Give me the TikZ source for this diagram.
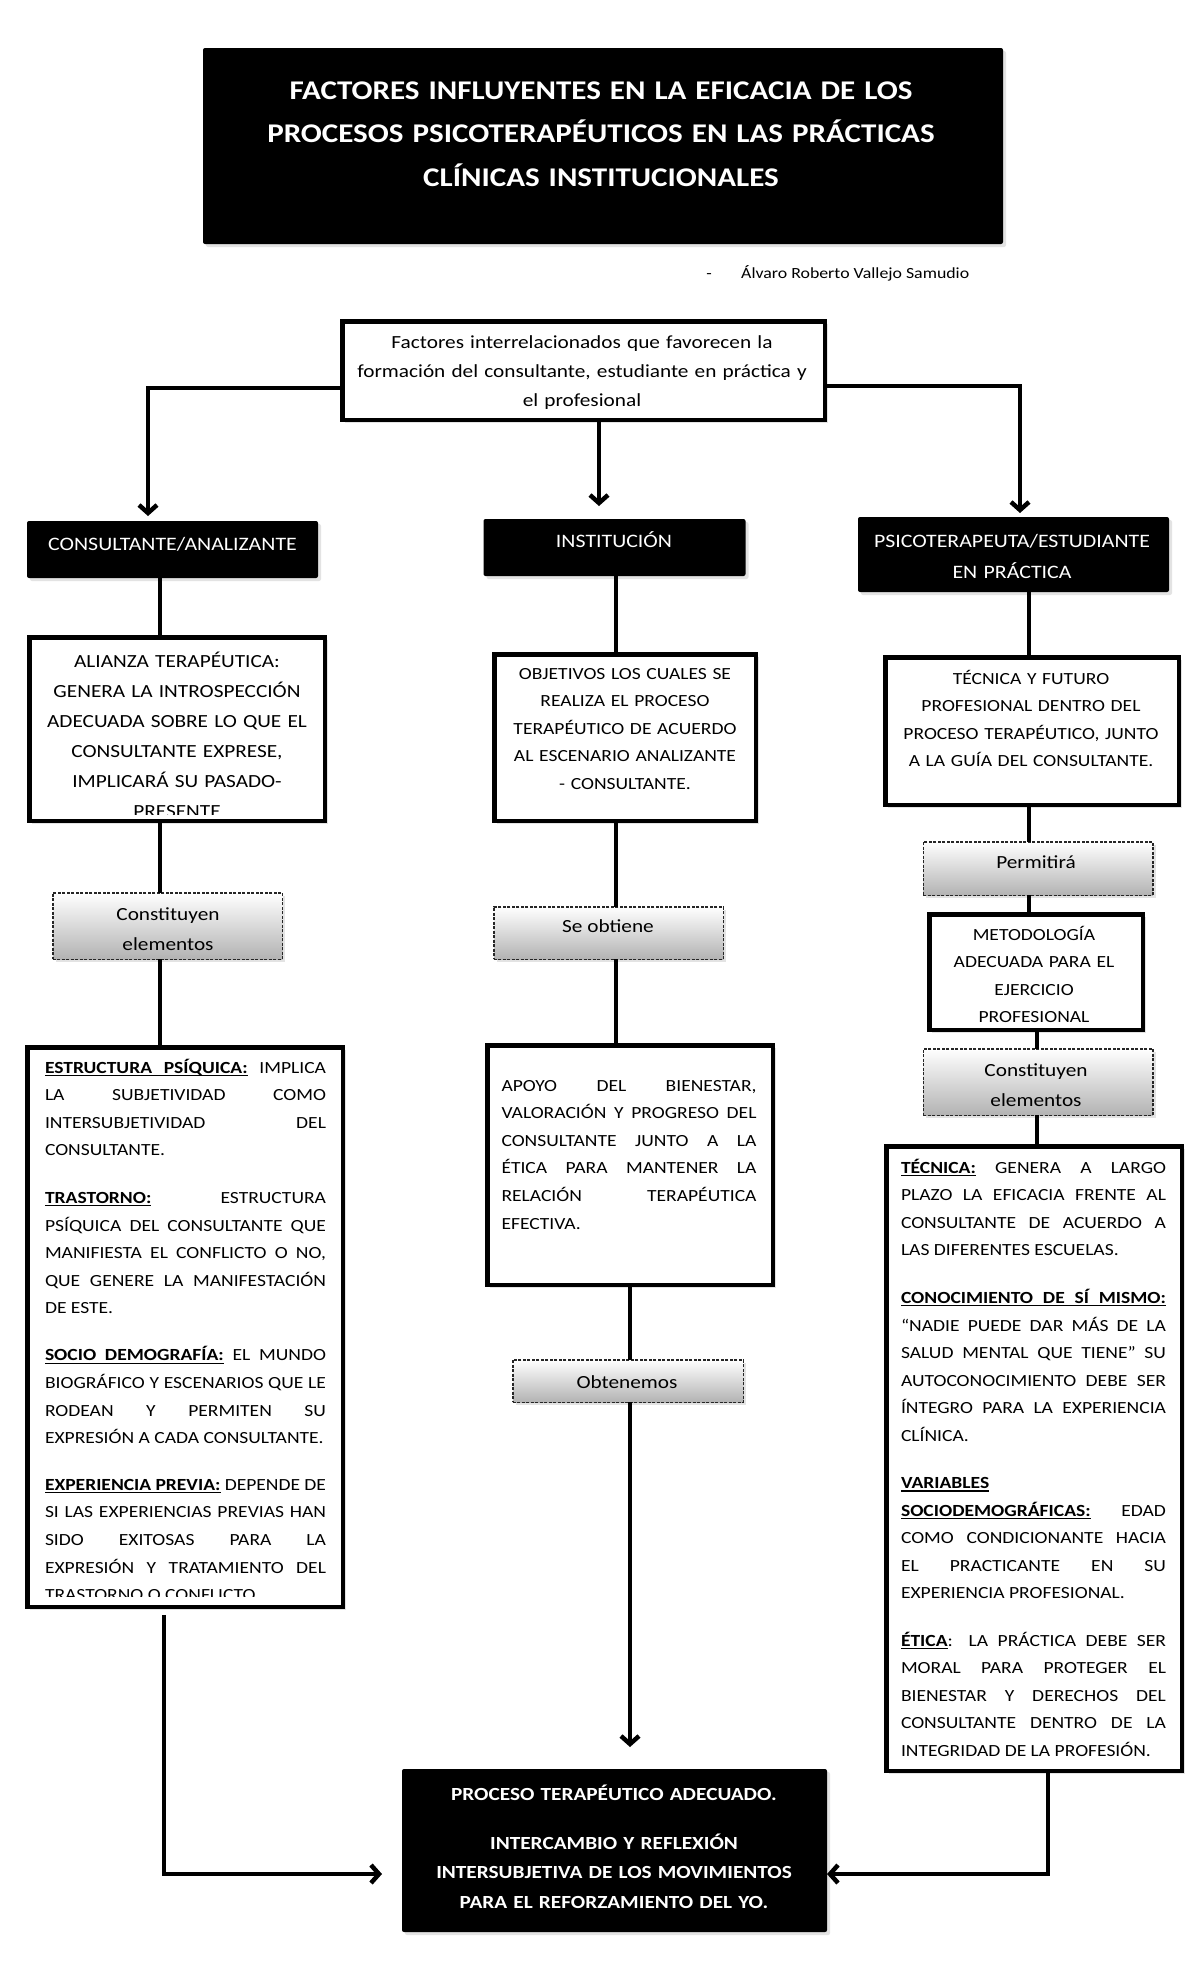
\documentclass[tikz,border=0pt]{standalone}
\usepackage{fontspec}
\setmainfont{Carlito}[FakeStretch=1.15]
\newcommand\ulw[1]{\setbox0=\hbox{#1}\rlap{\rule[-3pt]{\wd0}{1.4pt}}\box0}
\newcommand\uls{\leaders\hrule height -1.6pt depth 3pt\hskip\fontdimen2\font plus\fontdimen3\font minus\fontdimen4\font\relax}
\usetikzlibrary{arrows.meta,shadows,calc}
\begin{document}
\begin{tikzpicture}[x=1pt,y=-1pt,
  shad/.style={drop shadow={opacity=0.22, shadow xshift=3pt, shadow yshift=-3pt}},
  wbox/.style={draw=black, line width=4.5pt, fill=white, inner sep=0pt, outer sep=0pt, anchor=north west, shad},
  bbox/.style={fill=black, rounded corners=2pt, inner sep=0pt, outer sep=0pt, anchor=north west, shad},
  dbox/.style={draw=black!85, dash pattern=on 3pt off 1.5pt, line width=1.5pt, top color=white, bottom color=black!30, inner sep=0pt, outer sep=0pt, anchor=north west, shad},
  conn/.style={line width=4.5pt},
  arr/.style={line width=4.5pt, -{Straight Barb[length=8pt,width=18pt]}},
  txt/.style={inner sep=0pt, outer sep=0pt, anchor=base, align=center},
  body/.style={font=\fontsize{17}{27.6}\selectfont},
  jtxt/.style={inner sep=0pt, outer sep=0pt, anchor=base west, align=justify, body},
]
\useasboundingbox[fill=white] (0,0) rectangle (1200,1976);

% ---------- boxes ----------
\node[bbox, minimum width=800pt, minimum height=196pt] (title) at (203,48) {};
\node[wbox, minimum width=482.5pt, minimum height=98.5pt] (top) at (342.25,321.25) {};
\node[bbox, minimum width=291pt, minimum height=57pt] (cons) at (27,521) {};
\node[bbox, minimum width=262pt, minimum height=57pt] (inst) at (483.5,519) {};
\node[bbox, minimum width=311pt, minimum height=75pt] (psico) at (858,517) {};
\node[wbox, minimum width=295.5pt, minimum height=183.5pt] (ali) at (29.25,637.25) {};
\node[wbox, minimum width=261.5pt, minimum height=166.5pt] (obj) at (494.25,654.25) {};
\node[wbox, minimum width=293.5pt, minimum height=147.5pt] (tf) at (885.25,657.25) {};
\node[dbox, minimum width=229.5pt, minimum height=66.5pt] (c1) at (52.75,892.75) {};
\node[dbox, minimum width=229.5pt, minimum height=52.5pt] (se) at (493.75,906.75) {};
\node[dbox, minimum width=229.5pt, minimum height=53.5pt] (perm) at (923.25,841.75) {};
\node[wbox, minimum width=213.5pt, minimum height=115.5pt] (met) at (929.25,914.25) {};
\node[dbox, minimum width=229.5pt, minimum height=66.5pt] (c2) at (923.25,1048.75) {};
\node[wbox, minimum width=315.5pt, minimum height=559.5pt] (est) at (27.25,1047.25) {};
\node[wbox, minimum width=285.5pt, minimum height=239.5pt] (apoyo) at (487.25,1045.25) {};
\node[wbox, minimum width=295.5pt, minimum height=624.5pt] (tec) at (886.25,1146.25) {};
\node[dbox, minimum width=230.5pt, minimum height=42.5pt] (obt) at (512.75,1359.75) {};
\node[bbox, minimum width=425pt, minimum height=163pt] (final) at (402,1769) {};

% ---------- connector x positions ----------
\coordinate (xl) at (160,0);
\coordinate (xl2) at (164,0);
\coordinate (xm1) at (616,0);
\coordinate (xm2) at (630,0);
\coordinate (xr1) at (1029,0);
\coordinate (xr2) at (1037,0);
\coordinate (xr3) at (1048,0);

% ---------- connectors ----------
\draw[arr, shorten >=5pt] ([yshift=-17.5pt]top.west) -| ([xshift=-24.5pt]cons.north);
\draw[arr, shorten >=4pt] ([yshift=-15.5pt]top.east) -| ([xshift=6.5pt]psico.north);
\draw[arr, shorten >=13pt] ([xshift=15.5pt]top.south) -- ([xshift=15.5pt]top.south |- inst.north);

\draw[conn] (cons.south -| xl) -- (ali.north -| xl);
\draw[conn] (ali.south -| xl) -- (c1.north -| xl);
\draw[conn] (c1.south -| xl) -- (est.north -| xl);
\draw[arr, shorten >=20pt] ([yshift=-8pt]est.south -| xl2) |- ([yshift=-23.5pt]final.west);

\draw[conn] (inst.south -| xm1) -- (obj.north -| xm1);
\draw[conn] (obj.south -| xm1) -- (se.north -| xm1);
\draw[conn] (se.south -| xm1) -- (apoyo.north -| xm1);
\draw[conn] (apoyo.south -| xm2) -- (obt.north -| xm2);
\draw[arr, shorten >=22pt] (obt.south -| xm2) -- (final.north -| xm2);

\draw[conn] (psico.south -| xr1) -- (tf.north -| xr1);
\draw[conn] (tf.south -| xr1) -- (perm.north -| xr1);
\draw[conn] (perm.south -| xr1) -- (met.north -| xr1);
\draw[conn] (met.south -| xr2) -- (c2.north -| xr2);
\draw[conn] (c2.south -| xr2) -- (tec.north -| xr2);
\draw[arr] (tec.south -| xr3) |- ([yshift=-23.5pt]final.east);

% ---------- texts ----------
\node[txt, text width=790pt, text=white, font=\bfseries\fontsize{27}{43.5}\selectfont] (ttitle) at (601,99)
  {FACTORES INFLUYENTES EN LA EFICACIA DE LOS\\PROCESOS PSICOTERAPÉUTICOS EN LAS PRÁCTICAS\\CLÍNICAS INSTITUCIONALES};
\node[inner sep=0pt, anchor=base, font=\fontsize{15.5}{18}\selectfont] (tdash) at (709,278) {-};
\node[inner sep=0pt, anchor=base west, font=\fontsize{15.5}{18}\selectfont] (tauth) at (741,278) {Álvaro Roberto Vallejo Samudio};

\node[txt, text width=480pt, font=\fontsize{18.5}{29}\selectfont] (ttop) at (582,348)
  {Factores interrelacionados que favorecen la\\formación del consultante, estudiante en práctica y\\el profesional};

\node[txt, text=white, font=\fontsize{19}{31}\selectfont] (tcons) at (172.5,550) {CONSULTANTE/ANALIZANTE};
\node[txt, text=white, font=\fontsize{19}{31}\selectfont] (tinst) at (614,547) {INSTITUCIÓN};
\node[txt, text width=305pt, text=white, font=\fontsize{19}{31}\selectfont] (tpsico) at (1012,547) {PSICOTERAPEUTA/ESTUDIANTE\\EN PRÁCTICA};

\begin{scope}
\clip (31.5,639.5) rectangle (322.5,814.5);
\node[txt, text width=295pt, font=\fontsize{18.5}{30}\selectfont] (tali) at (177,667)
  {ALIANZA TERAPÉUTICA:\\GENERA LA INTROSPECCIÓN\\ADECUADA SOBRE LO QUE EL\\CONSULTANTE EXPRESE,\\IMPLICARÁ SU PASADO-\\PRESENTE};
\end{scope}

\node[txt, text width=260pt, body] (tobj) at (625,679)
  {OBJETIVOS LOS CUALES SE\\REALIZA EL PROCESO\\TERAPÉUTICO DE ACUERDO\\AL ESCENARIO ANALIZANTE\\- CONSULTANTE.};
\node[txt, text width=292pt, body] (ttf) at (1031,684)
  {TÉCNICA Y FUTURO\\PROFESIONAL DENTRO DEL\\PROCESO TERAPÉUTICO, JUNTO\\A LA GUÍA DEL CONSULTANTE.};

\node[txt, text width=225pt, font=\fontsize{18.5}{30}\selectfont] (tc1) at (168,920) {Constituyen\\elementos};
\node[txt, font=\fontsize{18.5}{30}\selectfont] (tse) at (608,932) {Se obtiene};
\node[txt, font=\fontsize{18.5}{30}\selectfont] (tperm) at (1036,868) {Permitirá};
\node[txt, text width=212pt, body] (tmet) at (1034,940) {METODOLOGÍA\\ADECUADA PARA EL\\EJERCICIO\\PROFESIONAL};
\node[txt, text width=225pt, font=\fontsize{18.5}{30}\selectfont] (tc2) at (1036,1076) {Constituyen\\elementos};
\node[txt, font=\fontsize{18.5}{30}\selectfont] (tobt) at (627,1388) {Obtenemos};

\begin{scope}
\clip (31.5,1049.5) rectangle (338.5,1596);
\node[jtxt, text width=281pt] (test) at (45,1073)
  {\textbf{\ulw{ESTRUCTURA}\uls\ulw{PSÍQUICA:}\uls}IMPLICA\linebreak LA SUBJETIVIDAD COMO\linebreak INTERSUBJETIVIDAD DEL\linebreak CONSULTANTE.\par\vspace{20pt}
   \textbf{\ulw{TRASTORNO:}} ESTRUCTURA\linebreak PSÍQUICA DEL CONSULTANTE QUE\linebreak MANIFIESTA EL CONFLICTO O NO,\linebreak QUE GENERE LA MANIFESTACIÓN\linebreak DE ESTE.\par\vspace{19.5pt}
   \textbf{\ulw{SOCIO}\uls\ulw{DEMOGRAFÍA:}\uls}EL MUNDO\linebreak BIOGRÁFICO Y ESCENARIOS QUE LE\linebreak RODEAN Y PERMITEN SU\linebreak EXPRESIÓN A CADA CONSULTANTE.\par\vspace{19pt}
   \textbf{\ulw{EXPERIENCIA}\uls\ulw{PREVIA:}} DEPENDE DE\linebreak SI LAS EXPERIENCIAS PREVIAS HAN\linebreak SIDO EXITOSAS PARA LA\linebreak EXPRESIÓN Y TRATAMIENTO DEL\linebreak TRASTORNO O CONFLICTO.};
\end{scope}

\node[jtxt, text width=255pt] (tapoyo) at (501.5,1091)
  {APOYO DEL BIENESTAR,\linebreak VALORACIÓN Y PROGRESO DEL\linebreak CONSULTANTE JUNTO A LA\linebreak ÉTICA PARA MANTENER LA\linebreak RELACIÓN TERAPÉUTICA\linebreak EFECTIVA.};

\node[jtxt, text width=265pt] (ttec) at (901,1173)
  {\textbf{\ulw{TÉCNICA:}} GENERA A LARGO\linebreak PLAZO LA EFICACIA FRENTE AL\linebreak CONSULTANTE DE ACUERDO A\linebreak LAS DIFERENTES ESCUELAS.\par\vspace{20pt}
   \textbf{\ulw{CONOCIMIENTO}\uls\ulw{DE}\uls\ulw{SÍ}\uls\ulw{MISMO:}}\linebreak “NADIE PUEDE DAR MÁS DE LA\linebreak SALUD MENTAL QUE TIENE” SU\linebreak AUTOCONOCIMIENTO DEBE SER\linebreak ÍNTEGRO PARA LA EXPERIENCIA\linebreak CLÍNICA.\par\vspace{19.5pt}
   \textbf{\ulw{VARIABLES}}\newline \textbf{\ulw{SOCIODEMOGRÁFICAS:}} EDAD\linebreak COMO CONDICIONANTE HACIA\linebreak EL PRACTICANTE EN SU\linebreak EXPERIENCIA PROFESIONAL.\par\vspace{19.5pt}
   \textbf{\ulw{ÉTICA}}: LA PRÁCTICA DEBE SER\linebreak MORAL PARA PROTEGER EL\linebreak BIENESTAR Y DERECHOS DEL\linebreak CONSULTANTE DENTRO DE LA\linebreak INTEGRIDAD DE LA PROFESIÓN.};

\node[txt, text width=420pt, text=white, font=\bfseries\fontsize{18.5}{29.5}\selectfont] (tfinal) at (614,1800)
  {PROCESO TERAPÉUTICO ADECUADO.\\[19.5pt]INTERCAMBIO Y REFLEXIÓN\\INTERSUBJETIVA DE LOS MOVIMIENTOS\\PARA EL REFORZAMIENTO DEL YO.};
\end{tikzpicture}
\end{document}
